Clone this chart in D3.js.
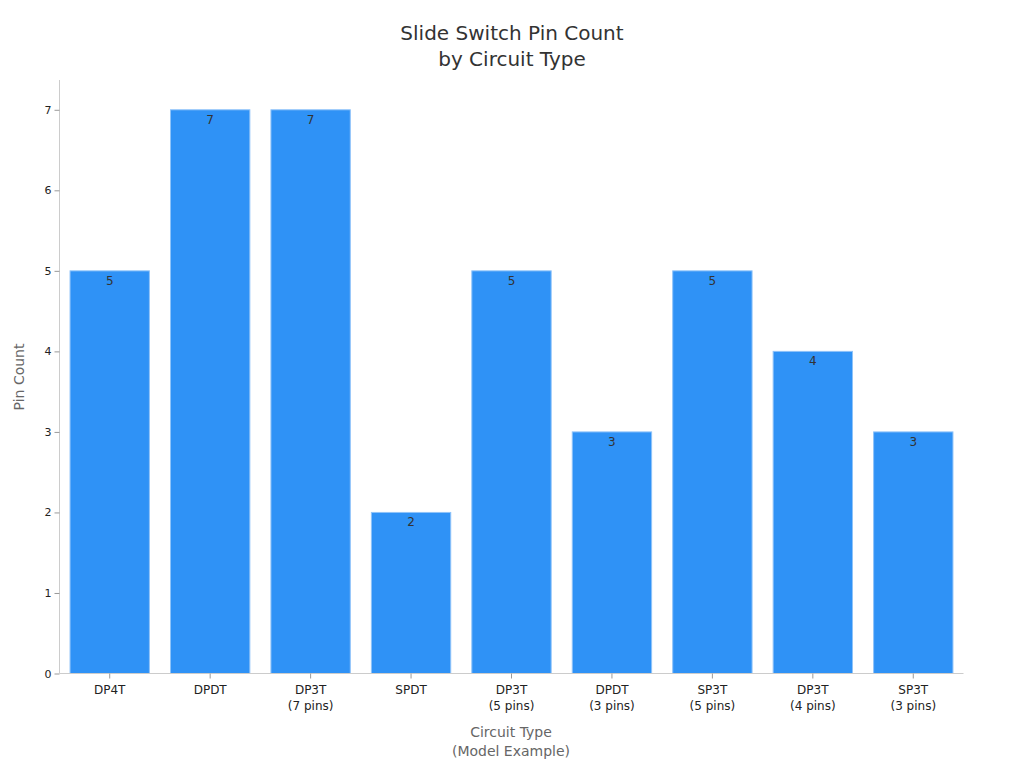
<!DOCTYPE html>
<html><head><meta charset="utf-8">
<script src="https://d3js.org/d3.v7.min.js"></script>
<style>body{margin:0;background:#fff;font-family:"DejaVu Sans",sans-serif}</style>
</head><body><svg id="c" width="1024" height="768"></svg>
<script>
const categories = [["DP4T"],["DPDT"],["DP3T","(7 pins)"],["SPDT"],["DP3T","(5 pins)"],["DPDT","(3 pins)"],["SP3T","(5 pins)"],["DP3T","(4 pins)"],["SP3T","(3 pins)"]];
const pinCounts = [5,7,7,2,5,3,5,4,3];
const yTicks = [0,1,2,3,4,5,6,7];
const titleLines = ["Slide Switch Pin Count","by Circuit Type"];
const xTitleLines = ["Circuit Type","(Model Example)"];
const yTitle = "Pin Count";

(function(){
const svg = d3.select("#c");
const mLeft = 59.5, mRight = 963.5, mTop = 80, mBottom = 673.5;
const keys = categories.map((c,i)=>i);
const x = d3.scaleBand().domain(keys).range([mLeft,mRight]).paddingInner(0.2).paddingOuter(0.1);
const y = d3.scaleLinear().domain([0,7.37]).range([mBottom,mTop]);

svg.append("g").selectAll("rect").data(pinCounts).join("rect")
  .attr("x",(d,i)=>x(i)+0.5).attr("y",d=>y(d)).attr("width",x.bandwidth()-1).attr("height",d=>mBottom-y(d))
  .attr("fill","#2f92f6").attr("stroke","#8fc3f9").attr("stroke-width",1);

svg.append("g").selectAll("text").data(pinCounts).join("text")
  .attr("x",(d,i)=>x(i)+x.bandwidth()/2).attr("y",d=>y(d)+14)
  .attr("text-anchor","middle").attr("font-size",12).attr("fill","#333").text(d=>d);

const ya = svg.append("g").attr("transform",`translate(${mLeft},0)`).call(d3.axisLeft(y).tickValues(yTicks).tickSize(5).tickPadding(3));
ya.selectAll("line").attr("stroke","#999");
ya.select(".domain").attr("stroke","#ccc").attr("d",`M0,${mTop}V${mBottom}`);
ya.selectAll("text").attr("font-size",11).attr("fill","#222").attr("font-family","DejaVu Sans");

const xa = svg.append("g").attr("transform",`translate(0,${mBottom})`).call(d3.axisBottom(x).tickSize(5).tickPadding(5).tickFormat(""));
xa.selectAll("line").attr("stroke","#999");
xa.select(".domain").attr("stroke","#ccc").attr("d",`M${mLeft},0H${mRight}`);
xa.selectAll(".tick").each(function(d){
  const t = d3.select(this).append("text").attr("fill","#222").attr("font-size",12).attr("text-anchor","middle").attr("font-family","DejaVu Sans");
  categories[d].forEach((s,j)=>t.append("tspan").attr("x",0).attr("y",20+j*16).text(s));
});

svg.append("text").attr("x",512).attr("text-anchor","middle").attr("font-size",20).attr("fill","#333")
  .selectAll("tspan").data(titleLines).join("tspan").attr("x",512).attr("y",(d,i)=>40+i*26).text(d=>d);
svg.append("text").attr("text-anchor","middle").attr("font-size",14).attr("fill","#666")
  .selectAll("tspan").data(xTitleLines).join("tspan").attr("x",511).attr("y",(d,i)=>737+i*19).text(d=>d);
svg.append("text").attr("transform","translate(24,377) rotate(-90)").attr("text-anchor","middle").attr("font-size",14).attr("fill","#666").text(yTitle);
})();
</script></body></html>
